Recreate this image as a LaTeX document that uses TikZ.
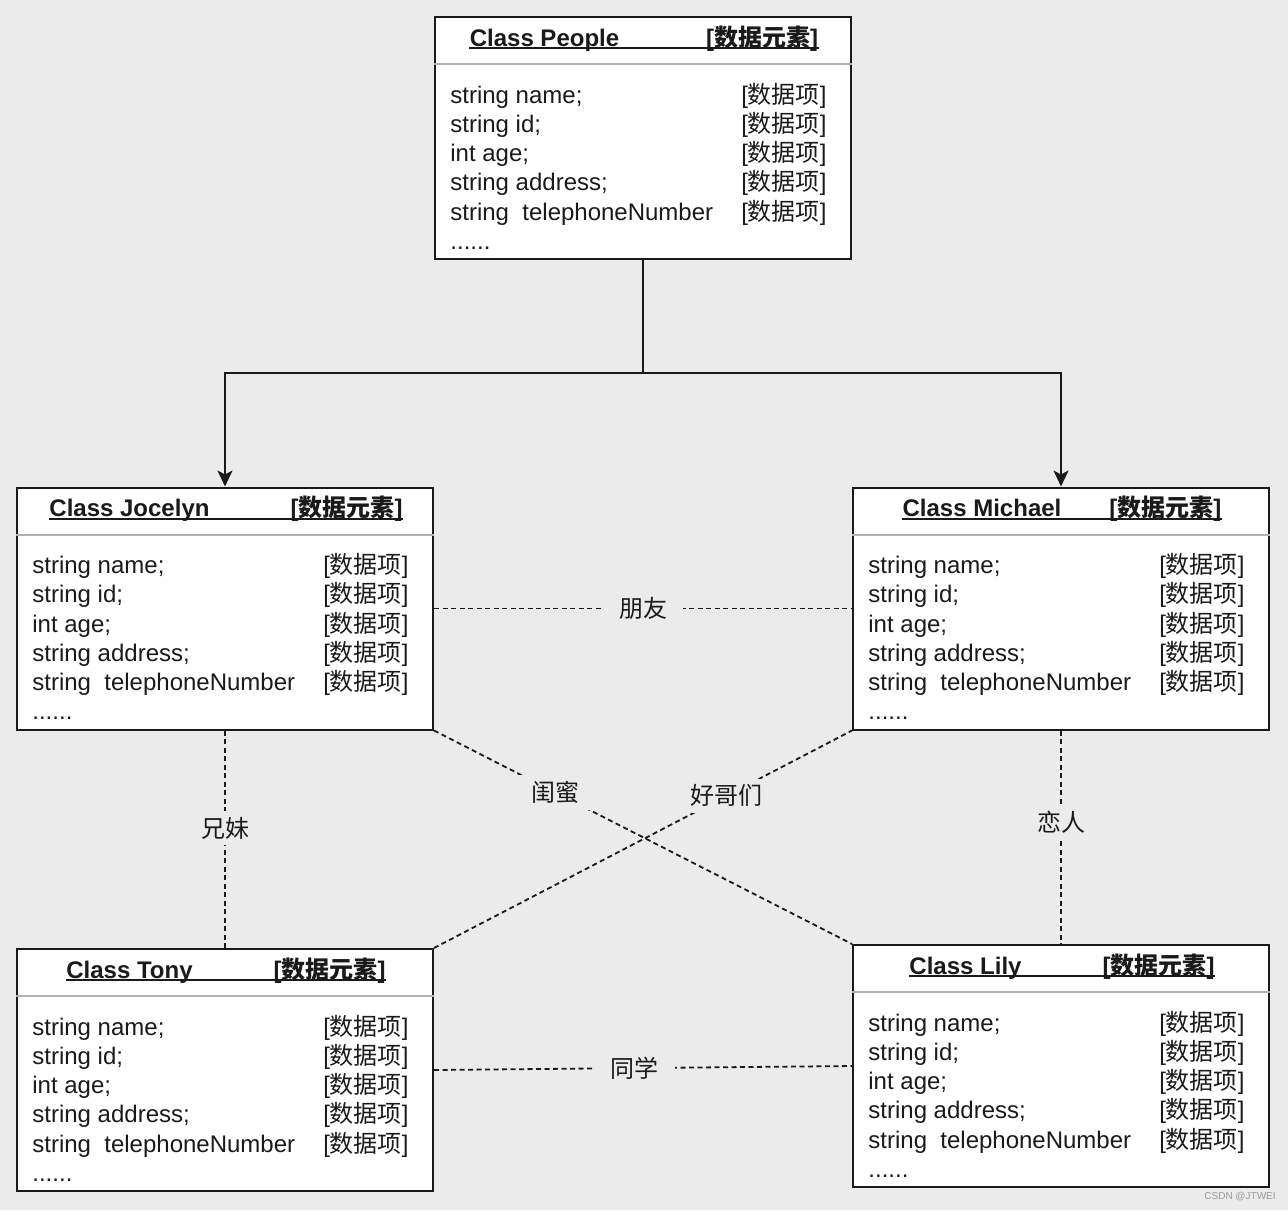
\documentclass[tikz,border=0pt]{standalone}
\usepackage{fontspec}
\setmainfont{Liberation Sans}
\newfontfamily\cjk{Noto Sans CJK SC}
\usetikzlibrary{arrows.meta}

\definecolor{bg}{HTML}{EBEBEB}
\definecolor{ink}{HTML}{1A1A1A}

\tikzset{
  classbox/.style={draw=ink, line width=1pt, fill=white, minimum width=208pt, minimum height=121pt, inner sep=0pt},
  sepline/.style={draw=gray!60, line width=1pt},
  classtitle/.style={inner sep=0pt, text=ink, font=\fontsize{12}{14}\selectfont\bfseries},
  body/.style={inner sep=0pt, text=ink, font=\fontsize{12}{14}\selectfont},
  inherit/.style={draw=ink, line width=1pt, -{Stealth[length=8pt,width=7.5pt,inset=2pt]}},
  relline/.style={draw=ink, line width=0.9pt, dash pattern=on 2.5pt off 1.75pt},
  rellabel/.style={fill=bg, inner xsep=8pt, inner ysep=3pt, text=ink, font=\cjk\fontsize{12}{14}\selectfont},
}

\def\moredots{......}

% one class: name, centre, class name, gap in the title
\newcommand{\classbox}[4]{%
  \node[classbox] (#1) at (#2) {};
  \draw[sepline] ([shift={(0,48)}]#1.north west) -- ([shift={(0,48)}]#1.north east);
  \node[classtitle, anchor=base] (#1-title) at ([shift={(1,30)}]#1.north) {Class #3\hspace{#4}[{\cjk 数据元素}]};
  \draw[draw=ink, line width=1pt] ([shift={(0,2)}]#1-title.base west) -- ([shift={(0,2)}]#1-title.base east);
  \foreach \txt [count=\i] in {string name;, string id;, int age;, string address;, string\ \ telephoneNumber, \moredots}
    \node[body, anchor=base west] (#1-item\i) at ([shift={(16,58+29.2*\i)}]#1.north west) {\txt};
  \foreach \i in {1,2,3,4,5}
    \node[body, anchor=base east] (#1-tag\i) at ([shift={(-25,58+29.2*\i)}]#1.north east) {[{\cjk 数据项}]};
}

\begin{document}
\begin{tikzpicture}[x=0.5pt, y=-0.5pt]
  \fill[bg] (0,0) rectangle (1288,1210);
  \useasboundingbox (0,0) rectangle (1288,1210);

  \classbox{people}{643,138}{People}{43.5pt}
  \classbox{jocelyn}{225,608.5}{Jocelyn}{40.5pt}
  \classbox{michael}{1061,608.5}{Michael}{24pt}
  \classbox{tony}{225,1070}{Tony}{40.5pt}
  \classbox{lily}{1061,1066}{Lily}{40.5pt}

  % inheritance
  \coordinate (split) at (643,373);
  \draw[draw=ink, line width=1pt] (people.south) -- (split);
  \draw[inherit] (split) -| (jocelyn.north);
  \draw[inherit] (split) -| (michael.north);

  % relations
  \draw[relline] (jocelyn.east) -- node[rellabel] (friend) {朋友} (michael.west);
  \draw[relline] (jocelyn.south) -- node[rellabel, pos=0.45] (sibling) {兄妹} (tony.north);
  \draw[relline] (michael.south) -- node[rellabel, pos=0.43] (lovers) {恋人} (lily.north);
  \draw[relline] (tony.east) -- node[rellabel, pos=0.48] (classmate) {同学} (lily.west);
  \draw[relline] (jocelyn.south east) -- node[rellabel, pos=0.29] (bestie) {闺蜜} (lily.north west);
  \draw[relline] (tony.north east) -- node[rellabel, pos=0.70] (buddies) {好哥们} (michael.south west);

  \node[text=gray!80, font=\fontsize{5}{6}\selectfont] (mark) at (1240,1197) {CSDN @JTWEI};
\end{tikzpicture}
\end{document}
